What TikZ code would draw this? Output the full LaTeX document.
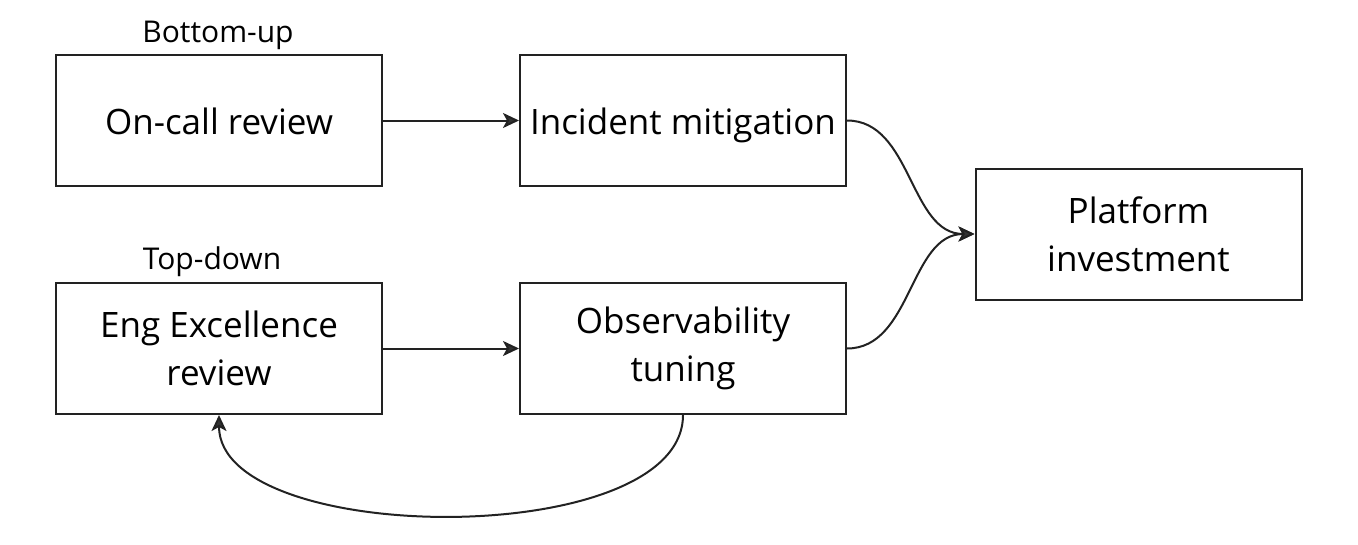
\documentclass[tikz,border=0pt]{standalone}
\usepackage{fontspec}
\setmainfont{Open Sans}
\usetikzlibrary{arrows.meta}
\definecolor{ln}{HTML}{222222}
\definecolor{tip}{HTML}{333333}
\begin{document}
\begin{tikzpicture}[x=1pt,y=-1pt,
  box/.style={draw=ln, line width=2pt, minimum width=326pt, minimum height=131pt, inner sep=0pt, align=center, font=\fontsize{35}{48}\selectfont},
  onebox/.style={box, text height=34pt, text depth=6pt},
  lbl/.style={font=\fontsize{30}{34}\selectfont, inner sep=0pt},
  conn/.style={draw=ln, line width=2pt, -{Stealth[length=16pt,width=15pt,inset=4pt,fill=tip]}}]
\useasboundingbox (0,0) rectangle (1358,544);
\node[onebox] (oncall) at (219,120.5) {On-call review};
\node[onebox] (incident) at (683,120.5) {Incident mitigation};
\node[box] (platform) at (1138.5,234) {Platform\\investment};
\node[box] (eng) at (219,348.5) {Eng Excellence\\review};
\node[box] (obs) at (683,348.5) {Observability\\tuning};
\node[lbl] (bu) at (218,35) {Bottom-up};
\node[lbl] (td) at (212,262) {Top-down};
\draw[conn] (oncall.east) -- (incident.west);
\draw[conn] (eng.east) -- (obs.west);
\draw[conn] (incident.east) .. controls +(65,0) and +(-65,0) .. (platform.west);
\draw[conn] (obs.east) .. controls +(65,0) and +(-65,0) .. (platform.west);
\draw[conn] (obs.south) .. controls +(0,136) and +(0,132) .. (eng.south);
\end{tikzpicture}
\end{document}
